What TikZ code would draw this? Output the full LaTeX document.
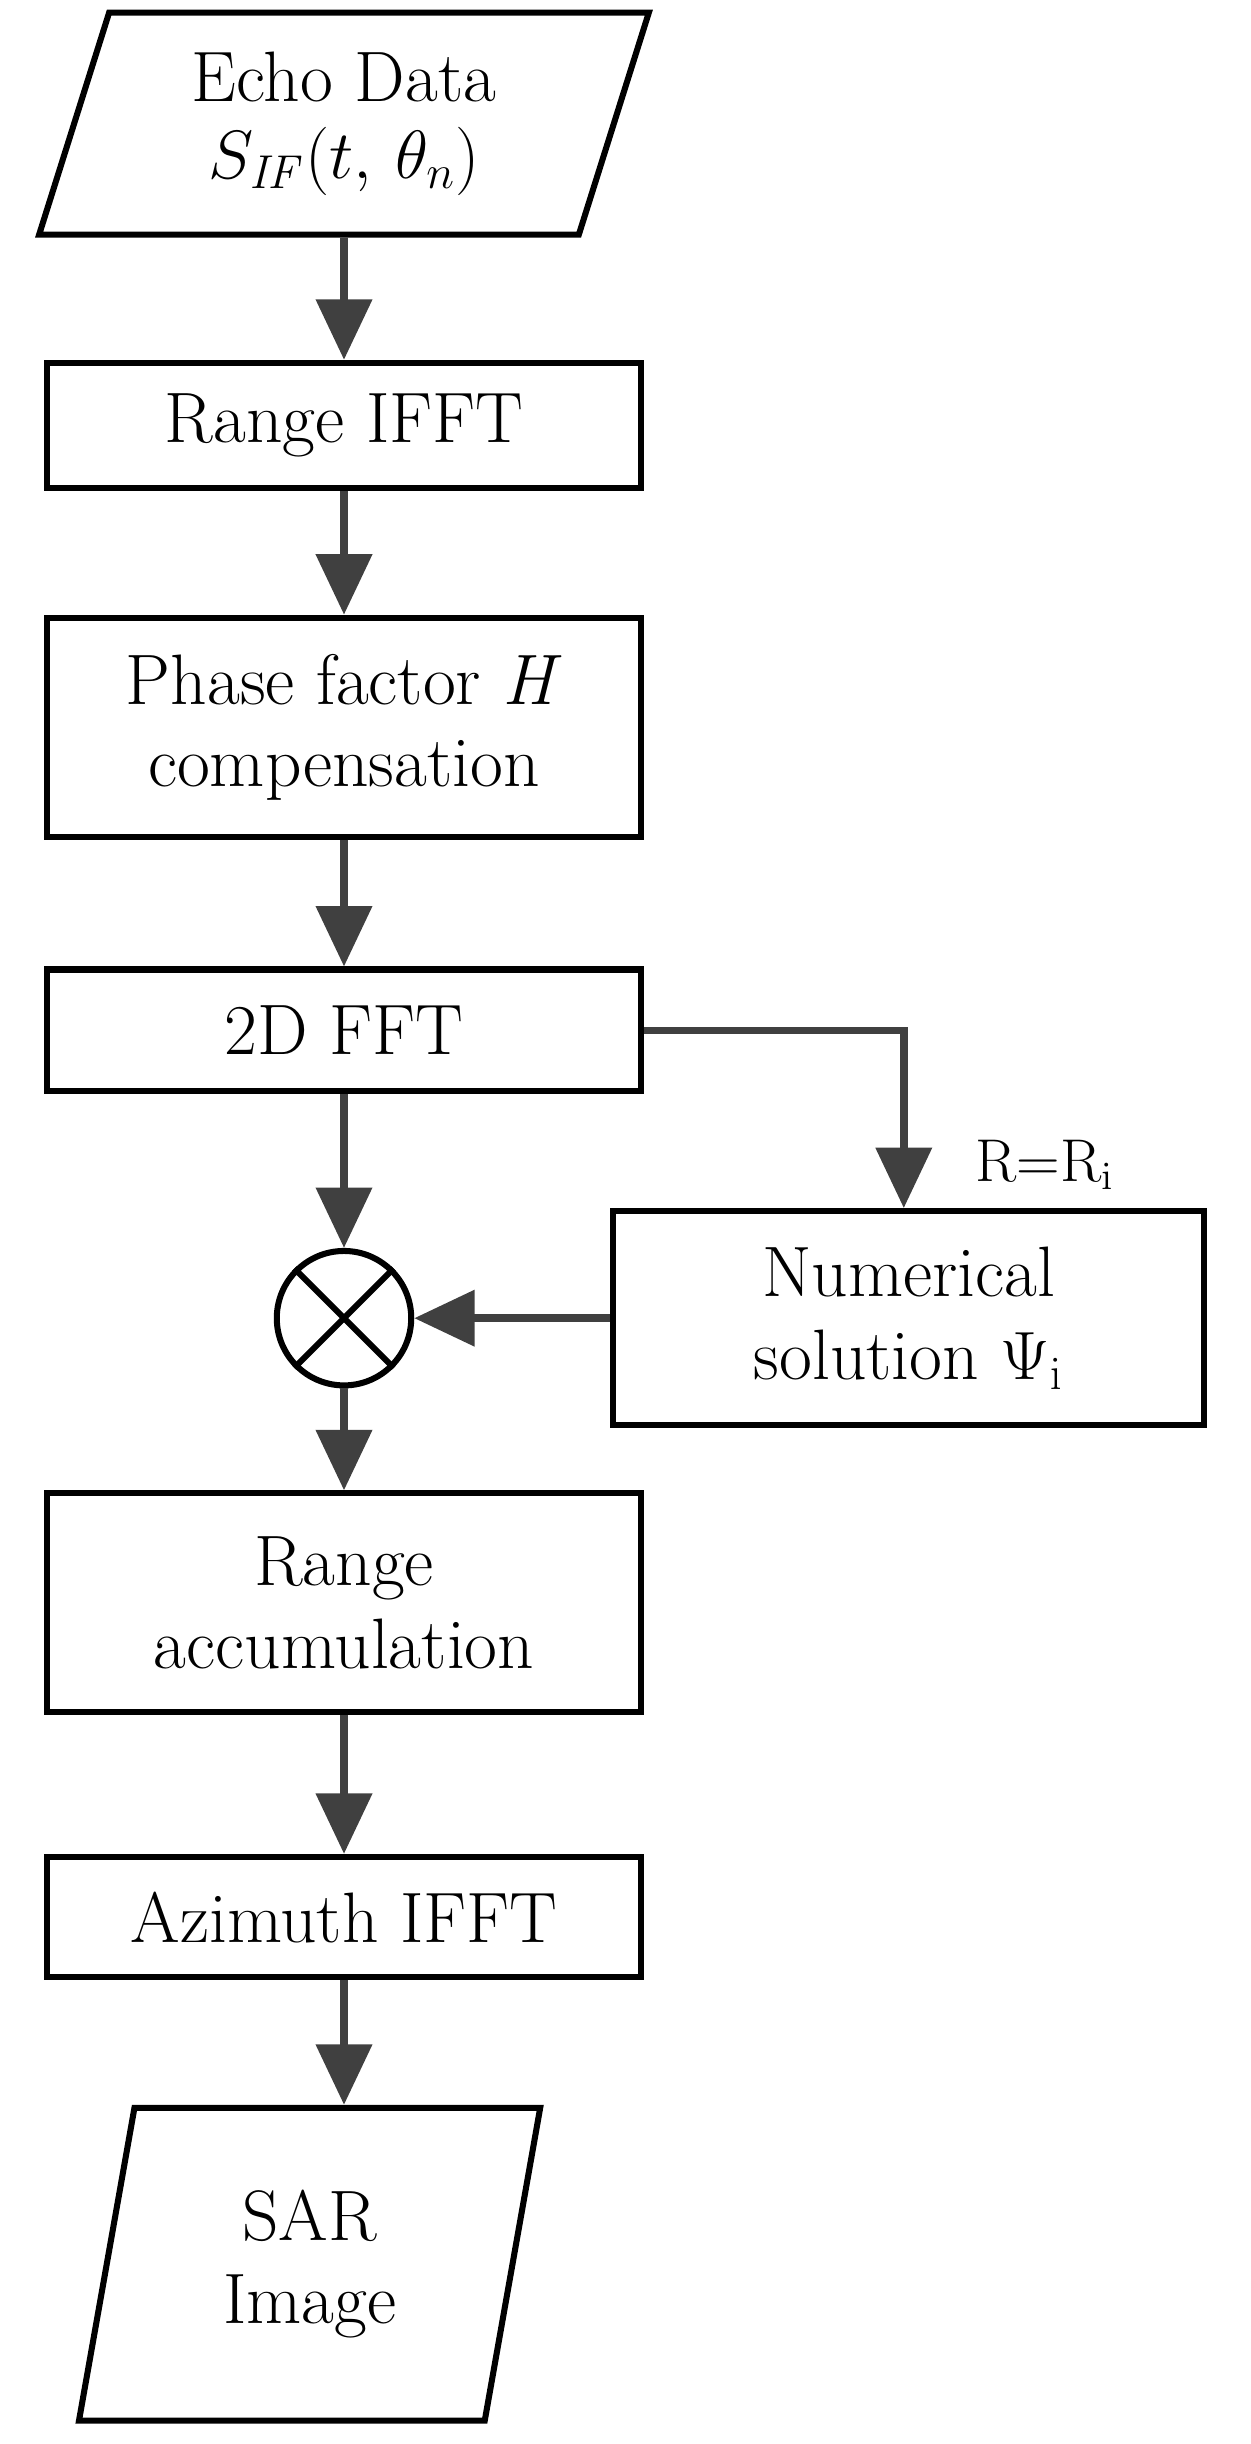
\documentclass[tikz,border=0pt]{standalone}
\usetikzlibrary{shapes.geometric,arrows.meta}
\begin{document}
\begin{tikzpicture}[x=0.02cm,y=-0.02cm,
  box/.style={draw=black,line width=2.2pt,minimum width=7.6cm,inner sep=0pt,align=center,font=\fontsize{26}{30}\selectfont},
  para/.style={draw=black,line width=2.2pt,trapezium,trapezium stretches body,inner sep=0pt,align=center,font=\fontsize{26}{30}\selectfont},
  arr/.style={draw=black!75,line width=2.8pt,-{Triangle[width=20pt,length=22pt]}}]
\useasboundingbox (0,0) rectangle (800,1563);
\node[para,trapezium left angle=64,trapezium right angle=116,minimum width=7.8cm,minimum height=2.84cm] (echo) at (220,79) {Echo Data\\[-2pt]$S_{\mathit{IF}}(t,\,\theta_n)$};
\node[box,minimum height=1.6cm] (ifft) at (220,272) {Range IFFT};
\node[box,minimum height=2.8cm] (phase) at (220,465) {Phase factor \textit{H}\\compensation};
\node[box,minimum height=1.56cm] (fft) at (220,659) {2D FFT};
\node[box,minimum width=7.56cm,minimum height=2.74cm] (num) at (581,843) {Numerical\\solution $\Psi_{\mathrm{i}}$};
\node[draw=black,line width=2.2pt,circle,minimum size=1.72cm,inner sep=0pt] (mul) at (220,843) {};
\draw[black,line width=2.2pt] (mul.45) -- (mul.225) (mul.135) -- (mul.315);
\node[box,minimum height=2.8cm] (acc) at (220,1025) {Range\\accumulation};
\node[box,minimum height=1.54cm] (az) at (220,1226) {Azimuth IFFT};
\node[para,trapezium left angle=69.4,trapezium right angle=110.6,minimum width=5.9cm,minimum height=4cm] (sar) at (198,1448) {SAR\\Image};
\coordinate (cx) at (578,0);
\node[font=\fontsize{22}{26}\selectfont] (lab) at (668,745) {R=R$_{\mathrm{i}}$};
\draw[arr] (echo) -- (ifft);
\draw[arr] (ifft) -- (phase);
\draw[arr] (phase) -- (fft);
\draw[arr] (fft) -- (mul);
\draw[arr] (fft.east) -- (fft.east -| cx) -- (num.north -| cx);
\draw[arr] (num) -- (mul);
\draw[arr] (mul) -- (acc);
\draw[arr] (acc) -- (az);
\draw[arr] (az) -- (az.south |- sar.north);
\end{tikzpicture}
\end{document}
